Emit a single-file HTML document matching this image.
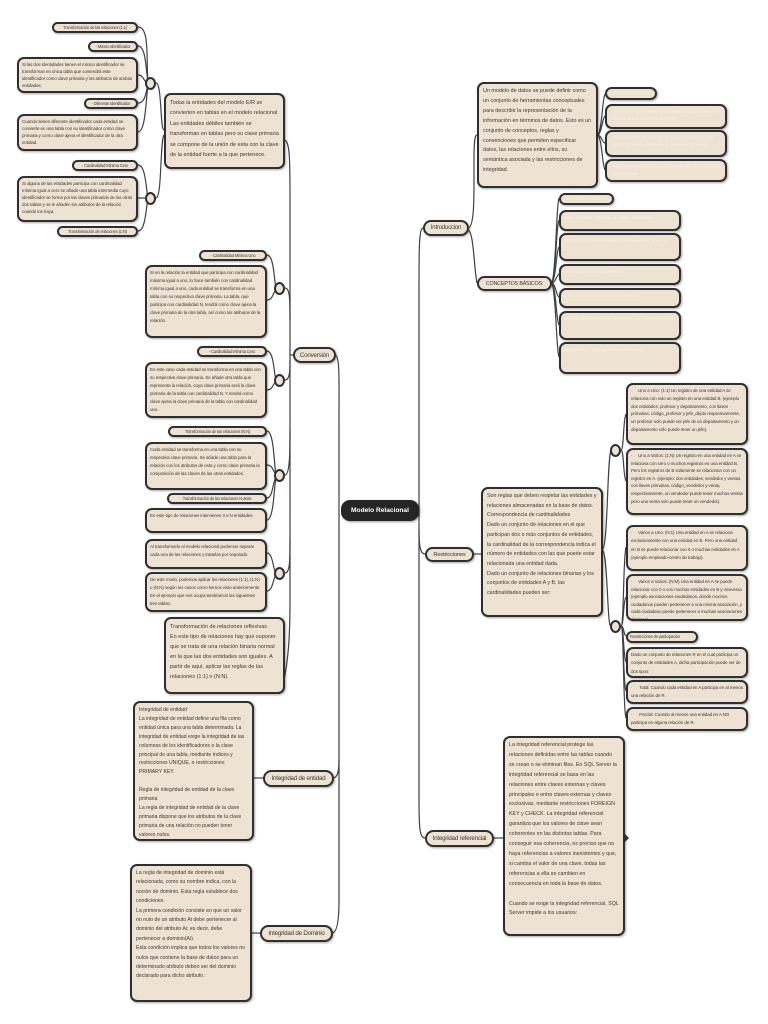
<!DOCTYPE html>
<html><head><meta charset="utf-8">
<style>
html,body{margin:0;padding:0;background:#fff;}
body{width:768px;height:1024px;position:relative;overflow:hidden;font-family:"Liberation Sans",sans-serif;color:#3a3a3a;}
.b{position:absolute;box-sizing:border-box;background:#eee2d2;border:2px solid #2f2f2f;border-radius:7px;box-shadow:1px 1px 2px rgba(0,0,0,.35);padding:2px 3px;overflow:hidden;}
.s{font-size:4.5px;line-height:7px;letter-spacing:-0.1px;}
.m{font-size:5.8px;line-height:10.4px;padding:3px 4px;}
.p{border-radius:8px;text-align:center;white-space:nowrap;font-size:4.1px;line-height:6px;padding:1px 2px;letter-spacing:-0.15px;}
.n{border-radius:9px;text-align:center;white-space:nowrap;font-size:6.2px;line-height:11px;padding:1px 2px;letter-spacing:-0.2px;}
.w{color:#f7f1ea;}
.c{position:absolute;width:11px;height:13px;box-sizing:border-box;border:2px solid #2f2f2f;border-radius:50%;background:#eee2d2;}
svg{position:absolute;left:0;top:0;}
</style></head><body>
<svg width="768" height="1024" fill="none" stroke="#3a3f4a" stroke-width="1.2">
<path d="M138 27 C150 27 146 60 148 83"/><path d="M138 46 C146 46 146 70 148 83"/>
<path d="M138 75 C144 75 144 83 148 83"/><path d="M138 103 C146 103 146 90 148 85"/>
<path d="M138 132 C146 132 146 95 148 86"/>
<path d="M138 165 C146 165 146 190 148 198"/><path d="M138 198 L146 198"/><path d="M138 231 C146 231 146 205 148 200"/>
<path d="M156 83 C162 83 160 130 164 130"/><path d="M156 198 C162 198 160 140 164 135"/>
<path d="M284 140 C290 140 290 160 290 200 L290 600 C290 640 288 660 284 680"/>
<path d="M290 355 L293 355"/>
<path d="M267 255 C274 255 274 280 276 288"/><path d="M267 300 C273 300 273 292 276 290"/>
<path d="M285 288 C290 288 290 300 290 320"/>
<path d="M267 351 C274 351 274 375 276 380"/><path d="M267 390 C273 390 273 383 276 382"/>
<path d="M285 380 C290 380 290 370 290 360"/>
<path d="M267 431 C274 431 274 465 276 475"/><path d="M267 465 C273 465 273 472 276 474"/><path d="M267 498 C273 498 273 480 276 477"/><path d="M267 520 C274 520 274 485 276 478"/>
<path d="M285 475 C290 475 290 450 290 430"/>
<path d="M267 553 C273 553 273 570 276 573"/><path d="M267 591 C273 591 273 578 276 575"/>
<path d="M285 573 C290 573 290 560 290 540"/>
<path d="M335 355 C340 355 339 380 339 420 L339 900 C339 925 336 933 332 933"/>
<path d="M333 778 C338 778 339 770 339 760"/>
<path d="M253 778 L263 778"/><path d="M252 933 L260 933"/>
<path d="M423 228 C419 228 419 250 419 290 L419 800 C419 830 420 838 425 838"/>
<path d="M419 530 C419 545 420 554 425 554"/>
<path d="M468 228 C474 228 474 200 474 180 L474 160 C474 140 475 135 477 135"/>
<path d="M468 230 C474 232 474 270 477 283"/>
<path d="M597 135 C602 135 602 100 605 94"/><path d="M597 135 C602 135 602 118 605 116"/><path d="M597 135 C602 135 602 143 605 143"/><path d="M597 135 C602 135 602 165 605 170"/>
<path d="M551 283 C556 283 556 205 559 198"/><path d="M551 283 C556 283 556 225 559 220"/><path d="M551 283 C556 283 556 250 559 247"/><path d="M551 283 C556 283 556 276 559 274"/><path d="M551 283 C556 283 556 296 559 297"/><path d="M551 283 C556 283 556 320 559 325"/><path d="M551 283 C556 283 556 350 559 357"/>
<path d="M473 554 L481 554"/>
<path d="M602 550 C608 550 607 460 611 450"/><path d="M602 550 C608 550 607 630 611 626"/>
<path d="M621 450 C624 450 623 420 626 414"/><path d="M621 450 C624 450 623 475 626 481"/>
<path d="M621 626 C624 626 623 560 626 547"/><path d="M621 626 C624 626 623 600 626 597"/><path d="M621 626 C624 626 624 636 626 636"/><path d="M621 626 C624 626 623 655 626 662"/><path d="M621 626 C624 626 623 685 626 691"/><path d="M621 626 C624 626 623 710 626 718"/>
<path d="M493 838 L503 838"/>
</svg>
<svg width="768" height="1024"><path d="M625 834 L629 838 L625 842 L621 838Z" fill="#2f3a50"/></svg>

<div class="b p" style="left:52px;top:22px;width:86px;height:11px">Transformación de las relaciones (1:1)</div>
<div class="b p" style="left:88px;top:41px;width:50px;height:11px">- Mismo Identificador</div>
<div class="b s" style="left:17px;top:57px;width:121px;height:36px">Si las dos identidades tienen el mismo identificador se transforman en única tabla que contendrá este identificador como clave primaria y los atributos de ambas entidades.</div>
<div class="b p" style="left:84px;top:98px;width:54px;height:11px">- Diferente Identificador</div>
<div class="b s" style="left:17px;top:114px;width:121px;height:37px">Cuando tienen diferente identificador cada entidad se convierte en una tabla con su identificador como clave primaria y como clave ajena el identificador de la otra entidad.</div>
<div class="b p" style="left:72px;top:160px;width:66px;height:11px">- Cardinalidad Mínima Cero</div>
<div class="b s" style="left:17px;top:176px;width:121px;height:46px">Si alguna de las entidades participa con cardinalidad mínima igual a cero se añade una tabla intermedia cuyo identificador se forma por las claves primarias de las otras dos tablas y se le añaden los atributos de la relación cuando los haya.</div>
<div class="b p" style="left:57px;top:226px;width:81px;height:11px">Transformación de relaciones (1:N)</div>
<div class="c" style="left:145px;top:77px"></div>
<div class="c" style="left:145px;top:192px"></div>
<div class="b m" style="left:164px;top:93px;width:121px;height:76px;font-size:5.5px">Todas la entidades del modelo E/R se convierten en tablas en el modelo relacional. Las entidades débiles también se transforman en tablas pero su clave primaria se compone de la unión de esta con la clave de la entidad fuerte a la que pertenece.</div>

<div class="b p" style="left:199px;top:250px;width:68px;height:11px">- Cardinalidad Mínima Uno</div>
<div class="b s" style="left:145px;top:265px;width:122px;height:73px;line-height:8px">Si en la relación la entidad que participa con cardinalidad máxima igual a uno, lo hace también con cardinalidad mínima igual a uno, cada entidad se transforma en una tabla con su respectiva clave primaria. La tabla, que participa con cardinalidad N, tendrá como clave ajena la clave primaria de la otra tabla, así como los atributos de la relación.</div>
<div class="c" style="left:274px;top:282px"></div>
<div class="b n" style="left:293px;top:347px;width:43px;height:16px;font-size:6.2px;line-height:11px">Conversión</div>
<div class="b p" style="left:197px;top:346px;width:70px;height:11px">- Cardinalidad Mínima Cero</div>
<div class="b s" style="left:145px;top:362px;width:122px;height:56px;line-height:8px">En este caso cada entidad se transforma en una tabla con su respectiva clave primaria. Se añade otra tabla que representa la relación, cuya clave primaria será la clave primaria de la tabla con cardinalidad N. Y tendrá como clave ajena la clave primaria de la tabla con cardinalidad uno.</div>
<div class="c" style="left:274px;top:374px"></div>
<div class="b p" style="left:168px;top:426px;width:99px;height:11px">Transformación de las relaciones (N:N)</div>
<div class="b s" style="left:145px;top:442px;width:122px;height:48px;line-height:8px">Cada entidad se transforma en una tabla con su respectiva clave primaria. Se añade una tabla para la relación con los atributos de esta y como clave primaria la composición de las claves de las otras entidades.</div>
<div class="c" style="left:274px;top:469px"></div>
<div class="b p" style="left:167px;top:493px;width:100px;height:11px">Transformación de las relaciones N-arias</div>
<div class="b s" style="left:145px;top:508px;width:122px;height:25px;line-height:8px">En este tipo de relaciones intervienen 3 o N entidades.</div>
<div class="b s" style="left:145px;top:539px;width:122px;height:30px;line-height:8px">Al transformarlo al modelo relacional podemos separar cada una de las relaciones y tratarlas por separado.</div>
<div class="b s" style="left:145px;top:572px;width:122px;height:40px;line-height:8px">De este modo, podemos aplicar las relaciones (1:1), (1:N) o (N:N) según los casos como hemos visto anteriormente. En el ejemplo que nos ocupa tendríamos las siguientes tres tablas.</div>
<div class="c" style="left:274px;top:567px"></div>
<div class="b m" style="left:164px;top:617px;width:121px;height:77px;line-height:10px;font-size:5.5px">Transformación de relaciones reflexivas<br>En este tipo de relaciones hay que suponer que se trata de una relación binaria normal en la que las dos entidades son iguales. A partir de aquí, aplicar las reglas de las relaciones (1:1) o (N:N).</div>

<div class="b m" style="left:133px;top:701px;width:121px;height:140px;line-height:8.9px;font-size:5.1px">Integridad de entidad<br>La integridad de entidad define una fila como entidad única para una tabla determinada. La integridad de entidad exige la integridad de las columnas de los identificadores o la clave principal de una tabla, mediante índices y restricciones UNIQUE, o restricciones PRIMARY KEY.<br><br>Regla de integridad de entidad de la clave primaria<br>La regla de integridad de entidad de la clave primaria dispone que los atributos de la clave primaria de una relación no pueden tener valores nulos.</div>
<div class="b n" style="left:263px;top:770px;width:71px;height:17px">Integridad de entidad</div>
<div class="b m" style="left:130px;top:864px;width:122px;height:138px;line-height:9.4px;font-size:5.2px">La regla de integridad de dominio está relacionada, como su nombre indica, con la noción de dominio. Esta regla establece dos condiciones.<br>La primera condición consiste en que un valor no nulo de un atributo Ai debe pertenecer al dominio del atributo Ai; es decir, debe pertenecer a dominio(Ai).<br>Esta condición implica que todos los valores no nulos que contiene la base de datos para un determinado atributo deben ser del dominio declarado para dicho atributo.</div>
<div class="b n" style="left:260px;top:925px;width:73px;height:17px">Integridad de Dominio</div>

<div style="position:absolute;left:341px;top:500px;width:78px;height:21px;background:#252525;border-radius:9px;color:#fff;font-weight:bold;font-size:6.6px;line-height:21px;text-align:center;box-shadow:1px 1px 2px rgba(0,0,0,.4)">Modelo Relacional</div>

<div class="b n" style="left:423px;top:220px;width:46px;height:16px;font-size:6px;line-height:11px">Introduccion</div>
<div class="b m" style="left:477px;top:82px;width:121px;height:106px;line-height:9.9px;font-size:5.4px">Un modelo de datos se puede definir como un conjunto de herramientas conceptuales para describir la representación de la información en términos de datos. Esto es un conjunto de conceptos, reglas y convenciones que permiten especificar datos, las relaciones entre ellos, su semántica asociada y las restricciones de integridad.</div>
<div class="b p w" style="left:605px;top:87px;width:52px;height:13px">Las características son:</div>
<div class="b s w" style="left:605px;top:104px;width:122px;height:25px">- Lo principal es el elemento a modelar en un modelo, tal como se define mediante sus reglas.</div>
<div class="b s w" style="left:605px;top:130px;width:122px;height:27px">- Se caracteriza de la forma en que se representan los datos y las restricciones que se pueden implementar.</div>
<div class="b s w" style="left:605px;top:159px;width:122px;height:23px">- Para representarlo se usan herramientas para que tenga una estructura.</div>
<div class="b n" style="left:477px;top:276px;width:75px;height:15px;font-size:5.4px;line-height:10px">CONCEPTOS BÁSICOS:</div>
<div class="b p w" style="left:559px;top:193px;width:55px;height:12px">CONCEPTOS BÁSICOS</div>
<div class="b s w" style="left:559px;top:210px;width:122px;height:21px">Base de Datos: Conjunto de datos relacionados.</div>
<div class="b s w" style="left:559px;top:233px;width:122px;height:28px">Sistema: Conjunto de objetos que interactúan entre sí.</div>
<div class="b s w" style="left:559px;top:264px;width:122px;height:21px">Atributos: Conjunto de atributos.</div>
<div class="b s w" style="left:559px;top:288px;width:122px;height:20px">Dato: Es el valor mínimo de información.</div>
<div class="b s w" style="left:559px;top:311px;width:122px;height:29px">Modelo: Es el sistema de elementos que contienen datos.</div>
<div class="b s w" style="left:559px;top:342px;width:122px;height:32px">Restricciones: Son las reglas de los datos.</div>

<div class="b n" style="left:425px;top:547px;width:49px;height:15px;font-size:5.8px;line-height:10px">Restricciones</div>
<div class="b m" style="left:481px;top:487px;width:122px;height:130px;line-height:9.7px;font-size:5.3px">Son reglas que deben respetar las entidades y relaciones almacenadas en la base de datos.<br>Correspondencia de cardinalidades<br>Dado un conjunto de relaciones en el que participan dos o más conjuntos de entidades, la cardinalidad de la correspondencia indica el número de entidades con las que puede estar relacionada una entidad dada.<br>Dado un conjunto de relaciones binarias y los conjuntos de entidades A y B, las cardinalidades pueden ser:</div>
<div class="c" style="left:610px;top:444px"></div>
<div class="c" style="left:610px;top:620px"></div>
<div class="b s" style="left:626px;top:383px;width:122px;height:62px;line-height:7.8px">· &nbsp;&nbsp;&nbsp;&nbsp;Uno a Uno: (1:1) Un registro de una entidad A se relaciona con solo un registro en una entidad B. (ejemplo dos entidades, profesor y departamento, con llaves primarias, código_profesor y jefe_depto respectivamente, un profesor solo puede ser jefe de un departamento y un departamento solo puede tener un jefe).</div>
<div class="b s" style="left:626px;top:448px;width:122px;height:67px;line-height:7.6px">· &nbsp;&nbsp;&nbsp;&nbsp;Uno a Varios: (1:N) Un registro en una entidad en A se relaciona con cero o muchos registros en una entidad B. Pero los registros de B solamente se relacionan con un registro en A. (ejemplo: dos entidades, vendedor y ventas, con llaves primarias, código_vendedor y venta, respectivamente, un vendedor puede tener muchas ventas pero una venta solo puede tener un vendedor).</div>
<div class="b s" style="left:626px;top:525px;width:122px;height:46px;line-height:8.4px">· &nbsp;&nbsp;&nbsp;&nbsp;Varios a Uno: (N:1) Una entidad en A se relaciona exclusivamente con una entidad en B. Pero una entidad en B se puede relacionar con 0 o muchas entidades en A (ejemplo empleado-centro de trabajo).</div>
<div class="b s" style="left:626px;top:574px;width:122px;height:47px;line-height:7.6px">· &nbsp;&nbsp;&nbsp;&nbsp;Varios a Varios: (N:M) Una entidad en A se puede relacionar con 0 o con muchas entidades en B y viceversa (ejemplo asociaciones-ciudadanos, donde muchos ciudadanos pueden pertenecer a una misma asociación, y cada ciudadano puede pertenecer a muchas asociaciones distintas).</div>
<div class="b p" style="left:626px;top:631px;width:72px;height:12px;text-align:left">Restricciones de participación</div>
<div class="b s" style="left:626px;top:647px;width:122px;height:31px;line-height:8.4px">Dado un conjunto de relaciones R en el cual participa un conjunto de entidades A, dicha participación puede ser de dos tipos:</div>
<div class="b s" style="left:626px;top:680px;width:122px;height:24px;line-height:8.4px">· &nbsp;&nbsp;&nbsp;&nbsp;&nbsp;Total: Cuando cada entidad en A participa en al menos una relación de R.</div>
<div class="b s" style="left:626px;top:707px;width:122px;height:24px;line-height:8.4px">· &nbsp;&nbsp;&nbsp;&nbsp;&nbsp;Parcial: Cuando al menos una entidad en A NO participa en alguna relación de R.</div>

<div class="b n" style="left:425px;top:830px;width:69px;height:17px">Integridad referencial</div>
<div class="b m" style="left:503px;top:736px;width:122px;height:200px;line-height:9.9px;font-size:5.3px">La integridad referencial protege las relaciones definidas entre las tablas cuando se crean o se eliminan filas. En SQL Server la integridad referencial se basa en las relaciones entre claves externas y claves principales o entre claves externas y claves exclusivas, mediante restricciones FOREIGN KEY y CHECK. La integridad referencial garantiza que los valores de clave sean coherentes en las distintas tablas. Para conseguir esa coherencia, es preciso que no haya referencias a valores inexistentes y que, si cambia el valor de una clave, todas las referencias a ella se cambien en consecuencia en toda la base de datos.<br><br>Cuando se exige la integridad referencial, SQL Server impide a los usuarios:</div>
</body></html>
